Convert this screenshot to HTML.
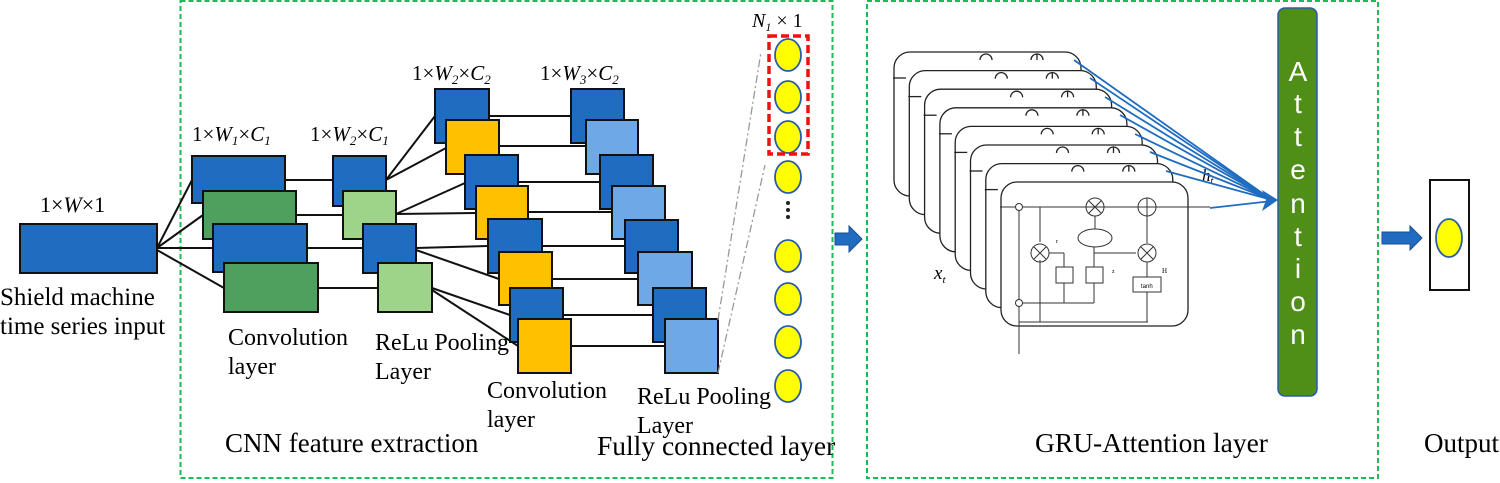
<!DOCTYPE html>
<html><head><meta charset="utf-8"><style>
html,body{margin:0;padding:0;background:#fff;}
svg{display:block;}
text{font-family:"Liberation Serif",serif;fill:#000;}
.s{font-family:"Liberation Sans",sans-serif;}
</style></head><body>
<svg width="1500" height="483" viewBox="0 0 1500 483" xmlns="http://www.w3.org/2000/svg">
<rect x="180.5" y="1" width="652" height="477" fill="none" stroke="#1db954" stroke-width="2" stroke-dasharray="5,3"/>
<rect x="867" y="1" width="511" height="477" fill="none" stroke="#1db954" stroke-width="2" stroke-dasharray="5,3"/>

<rect x="20" y="224" width="137" height="49" fill="#1f6cc0" stroke="#111" stroke-width="2"/>
<text x="40" y="212" font-size="22">1×<tspan font-style="italic">W</tspan>×1</text>
<text x="0" y="305" font-size="25">Shield machine</text>
<text x="0" y="334" font-size="25">time series input</text>

<g stroke="#111" stroke-width="2">
<line x1="157" y1="248" x2="192" y2="180"/>
<line x1="157" y1="248" x2="203" y2="215"/>
<line x1="157" y1="248" x2="213" y2="248"/>
<line x1="157" y1="250" x2="224" y2="288"/>
<line x1="285" y1="180" x2="333" y2="180"/>
<line x1="296" y1="215" x2="343" y2="215"/>
<line x1="307" y1="248" x2="363" y2="248"/>
<line x1="318" y1="288" x2="378" y2="288"/>
<line x1="386" y1="180" x2="435" y2="116"/>
<line x1="386" y1="180" x2="446" y2="148"/>
<line x1="396" y1="214" x2="465" y2="183"/>
<line x1="396" y1="214" x2="476" y2="213"/>
<line x1="416" y1="248" x2="488" y2="246"/>
<line x1="416" y1="250" x2="499" y2="279"/>
<line x1="432" y1="288" x2="510" y2="315"/>
<line x1="432" y1="290" x2="518" y2="346"/>
<line x1="489" y1="116" x2="571" y2="116"/>
<line x1="499" y1="146" x2="586" y2="146"/>
<line x1="518" y1="182" x2="600" y2="182"/>
<line x1="528" y1="212" x2="612" y2="212"/>
<line x1="542" y1="246" x2="625" y2="246"/>
<line x1="552" y1="279" x2="638" y2="279"/>
<line x1="563" y1="315" x2="653" y2="315"/>
<line x1="571" y1="346" x2="665" y2="346"/>
</g>

<g stroke="#111" stroke-width="2">
<rect x="192" y="156" width="93" height="47" fill="#1f6cc0"/>
<rect x="203" y="191" width="93" height="48" fill="#4f9f5f"/>
<rect x="213" y="224" width="94" height="48" fill="#1f6cc0"/>
<rect x="224" y="263" width="94" height="49" fill="#4f9f5f"/>

<rect x="333" y="156" width="53" height="50" fill="#1f6cc0"/>
<rect x="343" y="191" width="53" height="48" fill="#9dd48a"/>
<rect x="363" y="224" width="53" height="49" fill="#1f6cc0"/>
<rect x="378" y="263" width="54" height="49" fill="#9dd48a"/>

<rect x="435" y="89" width="54" height="54" fill="#1f6cc0"/>
<rect x="446" y="120" width="53" height="54" fill="#ffc000"/>
<rect x="465" y="155" width="53" height="54" fill="#1f6cc0"/>
<rect x="476" y="186" width="52" height="53" fill="#ffc000"/>
<rect x="488" y="219" width="54" height="54" fill="#1f6cc0"/>
<rect x="499" y="252" width="53" height="53" fill="#ffc000"/>
<rect x="510" y="288" width="53" height="54" fill="#1f6cc0"/>
<rect x="518" y="319" width="53" height="54" fill="#ffc000"/>

<rect x="571" y="89" width="53" height="54" fill="#1f6cc0"/>
<rect x="586" y="120" width="52" height="54" fill="#6fa8e6"/>
<rect x="600" y="155" width="53" height="54" fill="#1f6cc0"/>
<rect x="612" y="186" width="53" height="53" fill="#6fa8e6"/>
<rect x="625" y="220" width="53" height="53" fill="#1f6cc0"/>
<rect x="638" y="252" width="54" height="53" fill="#6fa8e6"/>
<rect x="653" y="288" width="53" height="54" fill="#1f6cc0"/>
<rect x="665" y="319" width="53" height="54" fill="#6fa8e6"/>
</g>

<g font-size="21">
<text x="192" y="141">1×<tspan font-style="italic">W<tspan font-size="13" dy="4">1</tspan></tspan><tspan dy="-4">×</tspan><tspan font-style="italic">C<tspan font-size="13" dy="4">1</tspan></tspan></text>
<text x="310" y="141">1×<tspan font-style="italic">W<tspan font-size="13" dy="4">2</tspan></tspan><tspan dy="-4">×</tspan><tspan font-style="italic">C<tspan font-size="13" dy="4">1</tspan></tspan></text>
<text x="412" y="80">1×<tspan font-style="italic">W<tspan font-size="13" dy="4">2</tspan></tspan><tspan dy="-4">×</tspan><tspan font-style="italic">C<tspan font-size="13" dy="4">2</tspan></tspan></text>
<text x="540" y="80">1×<tspan font-style="italic">W<tspan font-size="13" dy="4">3</tspan></tspan><tspan dy="-4">×</tspan><tspan font-style="italic">C<tspan font-size="13" dy="4">2</tspan></tspan></text>
<text x="752" y="27" font-size="20"><tspan font-style="italic">N<tspan font-size="12" dy="4">1</tspan></tspan><tspan dy="-4"> × 1</tspan></text>
</g>

<g font-size="24">
<text x="228" y="345">Convolution</text>
<text x="228" y="374">layer</text>
<text x="375" y="350">ReLu Pooling</text>
<text x="375" y="379">Layer</text>
<text x="487" y="398">Convolution</text>
<text x="487" y="427">layer</text>
<text x="637" y="404">ReLu Pooling</text>
<text x="637" y="433">Layer</text>
<text x="225" y="452" font-size="27">CNN feature extraction</text>
<text x="597" y="455" font-size="27.5">Fully connected layer</text>
<text x="1035" y="452" font-size="27.5">GRU-Attention layer</text>
<text x="1424" y="452" font-size="27">Output</text>
</g>

<g stroke="#999" stroke-width="1.3" stroke-dasharray="8,3,2,3" fill="none">
<line x1="718" y1="320" x2="761" y2="52"/>
<line x1="718" y1="373" x2="765" y2="165"/>
</g>
<g fill="#ffff00" stroke="#2a5ca8" stroke-width="1.8">
<ellipse cx="788" cy="55" rx="13" ry="16"/>
<ellipse cx="788" cy="97" rx="13" ry="16"/>
<ellipse cx="788" cy="137" rx="13" ry="16"/>
<ellipse cx="788" cy="177" rx="13" ry="16"/>
<ellipse cx="788" cy="256" rx="13" ry="16"/>
<ellipse cx="788" cy="299" rx="13" ry="16"/>
<ellipse cx="788" cy="342" rx="13" ry="16"/>
<ellipse cx="788" cy="386" rx="13" ry="16"/>
</g>
<g fill="#222"><circle cx="788" cy="203" r="2"/><circle cx="788" cy="210" r="2"/><circle cx="788" cy="217" r="2"/></g>
<rect x="769" y="36" width="39" height="118" fill="none" stroke="#ee1111" stroke-width="3.5" stroke-dasharray="8,4"/>

<polygon points="835,233 849,233 849,226 862,239 849,252 849,245 835,245" fill="#1f6cc0" stroke="#1a4f90" stroke-width="1"/>

<g fill="#fff" stroke="#222" stroke-width="1.3">
<g><rect x="894" y="52" width="187" height="144" rx="16"/><line x1="893" y1="78" x2="906" y2="78"/><path d="M980,60 a6,6 0 0 1 12,0 M1031,60 a6,6 0 0 1 12,0 M1037,54 v6"/></g>
<g transform="translate(15.3,18.6)"><rect x="894" y="52" width="187" height="144" rx="16"/><line x1="893" y1="78" x2="906" y2="78"/><path d="M980,60 a6,6 0 0 1 12,0 M1031,60 a6,6 0 0 1 12,0 M1037,54 v6"/></g>
<g transform="translate(30.6,37.2)"><rect x="894" y="52" width="187" height="144" rx="16"/><line x1="893" y1="78" x2="906" y2="78"/><path d="M980,60 a6,6 0 0 1 12,0 M1031,60 a6,6 0 0 1 12,0 M1037,54 v6"/></g>
<g transform="translate(45.9,55.8)"><rect x="894" y="52" width="187" height="144" rx="16"/><line x1="893" y1="78" x2="906" y2="78"/><path d="M980,60 a6,6 0 0 1 12,0 M1031,60 a6,6 0 0 1 12,0 M1037,54 v6"/></g>
<g transform="translate(61.2,74.4)"><rect x="894" y="52" width="187" height="144" rx="16"/><line x1="893" y1="78" x2="906" y2="78"/><path d="M980,60 a6,6 0 0 1 12,0 M1031,60 a6,6 0 0 1 12,0 M1037,54 v6"/></g>
<g transform="translate(76.5,93)"><rect x="894" y="52" width="187" height="144" rx="16"/><line x1="893" y1="78" x2="906" y2="78"/><path d="M980,60 a6,6 0 0 1 12,0 M1031,60 a6,6 0 0 1 12,0 M1037,54 v6"/></g>
<g transform="translate(91.8,111.6)"><rect x="894" y="52" width="187" height="144" rx="16"/><line x1="893" y1="78" x2="906" y2="78"/><path d="M980,60 a6,6 0 0 1 12,0 M1031,60 a6,6 0 0 1 12,0 M1037,54 v6"/></g>
<rect x="1001" y="182" width="187" height="144" rx="16"/>
</g>
<g fill="none" stroke="#333" stroke-width="1">
<line x1="1000" y1="207" x2="1210" y2="207"/>
<line x1="1019" y1="207" x2="1019" y2="354"/>
<line x1="1019" y1="303" x2="1094" y2="303"/>
<line x1="1019" y1="322" x2="1148" y2="322"/>
<line x1="1040" y1="207" x2="1040" y2="242"/>
<line x1="1040" y1="260" x2="1040" y2="322"/>
<line x1="1064" y1="283" x2="1064" y2="303"/>
<line x1="1064" y1="267" x2="1064" y2="253"/><line x1="1064" y1="253" x2="1049" y2="253"/>
<line x1="1094" y1="283" x2="1094" y2="303"/>
<line x1="1094" y1="267" x2="1094" y2="253"/><line x1="1094" y1="253" x2="1136" y2="253"/>
<line x1="1094" y1="253" x2="1094" y2="247"/>
<line x1="1095" y1="229" x2="1095" y2="216"/>
<line x1="1147" y1="322" x2="1147" y2="292"/>
<line x1="1147" y1="277" x2="1147" y2="262"/>
<line x1="1147" y1="243" x2="1147" y2="216"/>
<circle cx="1095" cy="207" r="9"/><path d="M1089,201 l12,12 M1101,201 l-12,12"/>
<circle cx="1147" cy="207" r="9"/><path d="M1138,207 h18 M1147,198 v18"/>
<circle cx="1040" cy="253" r="9"/><path d="M1034,247 l12,12 M1046,247 l-12,12"/>
<circle cx="1147" cy="253" r="9"/><path d="M1141,247 l12,12 M1153,247 l-12,12"/>
<ellipse cx="1095" cy="238" rx="17" ry="9"/>
<rect x="1056" y="267" width="17" height="16"/>
<rect x="1086" y="267" width="17" height="16"/>
<rect x="1133" y="277" width="28" height="15"/>
</g>
<circle cx="1019" cy="207" r="3.5" fill="#fff" stroke="#333"/>
<circle cx="1019" cy="303" r="3.5" fill="#fff" stroke="#333"/>
<text x="1141" y="288" font-size="6" class="s">tanh</text>
<text x="1056" y="243" font-size="6">r</text>
<text x="1112" y="273" font-size="6">z</text>
<text x="1162" y="273" font-size="7">H</text>
<text x="934" y="279" font-size="19" font-style="italic">x<tspan font-size="11" dy="4">t</tspan></text>
<text x="1202" y="181" font-size="17" font-style="italic">h<tspan font-size="10" dy="3">t</tspan></text>

<g stroke="#1f6cc0" stroke-width="1.8">
<line x1="1074" y1="60" x2="1272" y2="200"/>
<line x1="1090" y1="78" x2="1272" y2="200"/>
<line x1="1105" y1="97" x2="1272" y2="200"/>
<line x1="1120" y1="115" x2="1272" y2="200"/>
<line x1="1135" y1="134" x2="1272" y2="200"/>
<line x1="1150" y1="152" x2="1272" y2="200"/>
<line x1="1166" y1="171" x2="1272" y2="200"/>
<line x1="1210" y1="208" x2="1272" y2="201"/>
</g>
<polygon points="1278,200 1262,190 1266,200 1262,211" fill="#1f6cc0"/>

<rect x="1278" y="8" width="39" height="388" rx="7" fill="#4f8f18" stroke="#2a5ca8" stroke-width="1.5"/>
<g text-anchor="middle">
<text x="1298" y="81" class="s" font-size="28" fill="#fff" style="fill:#fff">A</text>
<text x="1298" y="113" class="s" font-size="28" style="fill:#fff">t</text>
<text x="1298" y="146" class="s" font-size="28" style="fill:#fff">t</text>
<text x="1298" y="179" class="s" font-size="28" style="fill:#fff">e</text>
<text x="1298" y="213" class="s" font-size="28" style="fill:#fff">n</text>
<text x="1298" y="246" class="s" font-size="28" style="fill:#fff">t</text>
<text x="1298" y="278" class="s" font-size="28" style="fill:#fff">i</text>
<text x="1298" y="311" class="s" font-size="28" style="fill:#fff">o</text>
<text x="1298" y="344" class="s" font-size="28" style="fill:#fff">n</text>
</g>

<polygon points="1382,232 1410,232 1410,226 1422,238 1410,250 1410,244 1382,244" fill="#1f6cc0" stroke="#1a4f90" stroke-width="1"/>
<rect x="1430" y="180" width="39" height="110" fill="#fff" stroke="#111" stroke-width="2"/>
<ellipse cx="1449" cy="238" rx="13" ry="19" fill="#ffff00" stroke="#2a5ca8" stroke-width="1.8"/>
</svg>
</body></html>
